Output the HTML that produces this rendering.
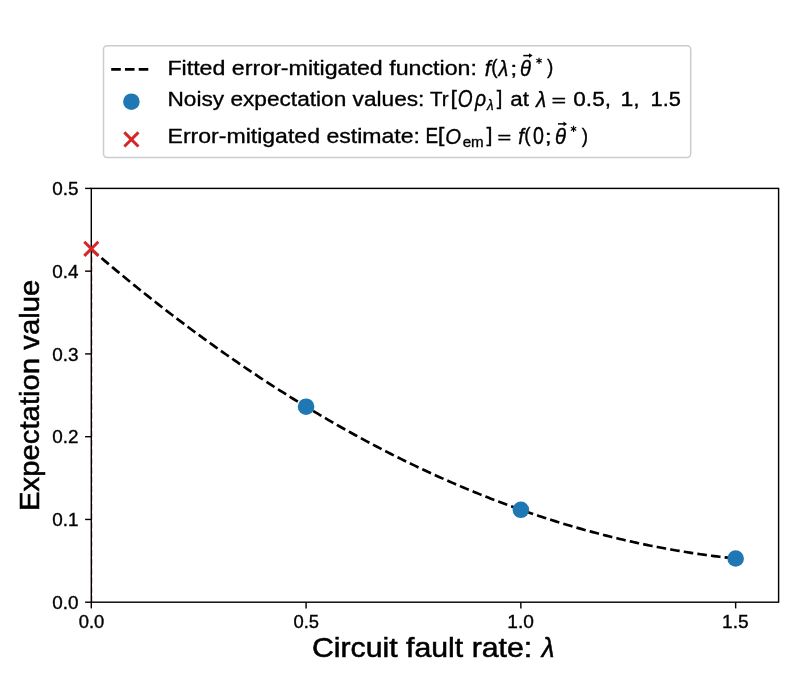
<!DOCTYPE html>
<html><head><meta charset="utf-8"><title>Error mitigation plot</title>
<style>html,body{margin:0;padding:0;background:#fff;width:797px;height:685px;overflow:hidden}
svg{display:block;filter:blur(0.4px)} text{font-family:"Liberation Sans",sans-serif;fill:#000;stroke:#000;stroke-width:0.35px;vector-effect:non-scaling-stroke} text.lab{stroke-width:0.55px}</style></head>
<body><svg width="797" height="685" viewBox="0 0 797 685">
<rect x="0" y="0" width="797" height="685" fill="#fff"/>
<!-- legend -->
<rect x="103.5" y="45.8" width="587.2" height="111.6" rx="3.6" ry="3.6" fill="#fff" stroke="#cccccc" stroke-width="1.5"/>
<line x1="111.2" y1="69.3" x2="148.9" y2="69.3" stroke="#000" stroke-width="2.66" stroke-dasharray="9.60 4.154"/>
<circle cx="131.4" cy="101.7" r="8.3" fill="#1f77b4"/>
<path d="M124.36,132.36L138.44,146.44M124.36,146.44L138.44,132.36" stroke="#d62728" stroke-width="3.0" fill="none"/>
<!-- axes content -->
<path d="M91.8,602.2V249.0" stroke="#d62728" stroke-opacity="0.35" stroke-width="1.73" stroke-dasharray="6.4 2.77" fill="none"/>
<polyline points="91.30,249.39 94.00,251.71 96.69,254.01 99.39,256.30 102.08,258.59 104.78,260.86 107.48,263.13 110.17,265.39 112.87,267.64 115.56,269.89 118.26,272.12 120.96,274.35 123.65,276.56 126.35,278.77 129.04,280.97 131.74,283.17 134.44,285.35 137.13,287.52 139.83,289.69 142.52,291.85 145.22,293.99 147.92,296.13 150.61,298.27 153.31,300.39 156.00,302.50 158.70,304.61 161.40,306.71 164.09,308.80 166.79,310.88 169.48,312.95 172.18,315.01 174.88,317.07 177.57,319.11 180.27,321.15 182.96,323.18 185.66,325.20 188.36,327.21 191.05,329.21 193.75,331.21 196.44,333.20 199.14,335.17 201.84,337.14 204.53,339.10 207.23,341.05 209.92,343.00 212.62,344.93 215.32,346.86 218.01,348.78 220.71,350.69 223.40,352.59 226.10,354.48 228.80,356.36 231.49,358.24 234.19,360.10 236.88,361.96 239.58,363.81 242.28,365.65 244.97,367.48 247.67,369.31 250.36,371.12 253.06,372.93 255.76,374.73 258.45,376.52 261.15,378.30 263.84,380.07 266.54,381.83 269.24,383.59 271.93,385.34 274.63,387.07 277.32,388.80 280.02,390.53 282.72,392.24 285.41,393.94 288.11,395.64 290.80,397.32 293.50,399.00 296.20,400.67 298.89,402.33 301.59,403.99 304.28,405.63 306.98,407.27 309.68,408.89 312.37,410.51 315.07,412.12 317.76,413.72 320.46,415.31 323.16,416.90 325.85,418.47 328.55,420.04 331.24,421.60 333.94,423.15 336.64,424.69 339.33,426.22 342.03,427.75 344.72,429.26 347.42,430.77 350.12,432.27 352.81,433.76 355.51,435.24 358.20,436.71 360.90,438.18 363.60,439.63 366.29,441.08 368.99,442.52 371.68,443.95 374.38,445.37 377.08,446.79 379.77,448.19 382.47,449.59 385.16,450.97 387.86,452.35 390.56,453.72 393.25,455.08 395.95,456.44 398.64,457.78 401.34,459.12 404.04,460.45 406.73,461.77 409.43,463.08 412.12,464.38 414.82,465.67 417.52,466.96 420.21,468.23 422.91,469.50 425.60,470.76 428.30,472.01 431.00,473.25 433.69,474.48 436.39,475.71 439.08,476.93 441.78,478.13 444.48,479.33 447.17,480.52 449.87,481.71 452.56,482.88 455.26,484.04 457.96,485.20 460.65,486.35 463.35,487.49 466.04,488.62 468.74,489.74 471.44,490.86 474.13,491.96 476.83,493.06 479.52,494.14 482.22,495.22 484.92,496.30 487.61,497.36 490.31,498.41 493.00,499.46 495.70,500.49 498.40,501.52 501.09,502.54 503.79,503.55 506.48,504.55 509.18,505.55 511.88,506.53 514.57,507.51 517.27,508.48 519.96,509.44 522.66,510.39 525.36,511.33 528.05,512.27 530.75,513.19 533.44,514.11 536.14,515.02 538.84,515.92 541.53,516.81 544.23,517.69 546.92,518.57 549.62,519.43 552.32,520.29 555.01,521.14 557.71,521.98 560.40,522.81 563.10,523.63 565.80,524.45 568.49,525.25 571.19,526.05 573.88,526.84 576.58,527.62 579.28,528.39 581.97,529.15 584.67,529.91 587.36,530.65 590.06,531.39 592.76,532.12 595.45,532.84 598.15,533.55 600.84,534.25 603.54,534.95 606.24,535.63 608.93,536.31 611.63,536.98 614.32,537.64 617.02,538.29 619.72,538.94 622.41,539.57 625.11,540.20 627.80,540.81 630.50,541.42 633.20,542.02 635.89,542.62 638.59,543.20 641.28,543.77 643.98,544.34 646.68,544.90 649.37,545.45 652.07,545.99 654.76,546.52 657.46,547.04 660.16,547.56 662.85,548.06 665.55,548.56 668.24,549.05 670.94,549.53 673.64,550.00 676.33,550.47 679.03,550.92 681.72,551.37 684.42,551.81 687.12,552.24 689.81,552.66 692.51,553.07 695.20,553.47 697.90,553.87 700.60,554.26 703.29,554.63 705.99,555.00 708.68,555.36 711.38,555.72 714.08,556.06 716.77,556.40 719.47,556.72 722.16,557.04 724.86,557.35 727.56,557.65 730.25,557.94 732.95,558.23 735.64,558.50" fill="none" stroke="#000" stroke-width="2.66" stroke-dasharray="9.60 4.154" stroke-dashoffset="0.33"/>
<circle cx="306.08" cy="406.7" r="8.3" fill="#1f77b4"/>
<circle cx="520.86" cy="509.8" r="8.3" fill="#1f77b4"/>
<circle cx="735.64" cy="558.5" r="8.3" fill="#1f77b4"/>
<rect x="91.3" y="188.4" width="687.30" height="413.80" fill="none" stroke="#000" stroke-width="1.42"/>
<g stroke="#000" stroke-width="1.42"><line x1="91.30" y1="602.2" x2="91.30" y2="608.40"/><line x1="306.08" y1="602.2" x2="306.08" y2="608.40"/><line x1="520.86" y1="602.2" x2="520.86" y2="608.40"/><line x1="735.64" y1="602.2" x2="735.64" y2="608.40"/><line x1="85.10" y1="602.20" x2="91.3" y2="602.20"/><line x1="85.10" y1="519.44" x2="91.3" y2="519.44"/><line x1="85.10" y1="436.68" x2="91.3" y2="436.68"/><line x1="85.10" y1="353.92" x2="91.3" y2="353.92"/><line x1="85.10" y1="271.16" x2="91.3" y2="271.16"/><line x1="85.10" y1="188.40" x2="91.3" y2="188.40"/></g>
<path d="M84.26,241.76L98.34,255.84M84.26,255.84L98.34,241.76" stroke="#d62728" stroke-width="3.0" fill="none"/>
<!-- text -->
<text transform="matrix(1.1054 0 0 1.0000 167.39 75.30)" font-size="21.0">Fitted error-mitigated function:</text>
<text transform="matrix(1.0250 0 0 1.0400 484.70 75.80)" font-size="21.0" font-style="italic">f</text>
<text transform="matrix(0.9000 0 0 0.9368 491.20 74.25)" font-size="21.0">(</text>
<text transform="matrix(0.9455 0 0 1.0400 498.55 75.80)" font-size="21.0" font-style="italic">λ</text>
<text transform="matrix(1.2000 0 0 0.9143 510.15 74.96)" font-size="21.0">;</text>
<text transform="matrix(0.9636 0 0 1.0400 520.04 75.60)" font-size="21.0" font-style="italic">θ</text>
<text transform="matrix(0.9000 0 0 0.9526 547.05 74.29)" font-size="21.0">)</text>
<text transform="matrix(1.0795 0 0 1.0000 167.42 106.30)" font-size="21.0">Noisy expectation values:</text>
<text transform="matrix(0.9765 0 0 1.0000 430.00 106.30)" font-size="21.0">Tr</text>
<text transform="matrix(1.1000 0 0 0.9579 450.50 105.47)" font-size="21.0">[</text>
<text transform="matrix(0.9067 0 0 1.1143 457.69 107.10)" font-size="21.0" font-style="italic">O</text>
<text transform="matrix(0.9231 0 0 1.0400 475.12 106.44)" font-size="21.0" font-style="italic">ρ</text>
<text transform="matrix(0.9125 0 0 0.9727 486.91 109.70)" font-size="14.8" font-style="italic">λ</text>
<text transform="matrix(0.9600 0 0 0.9579 496.80 105.47)" font-size="21.0">]</text>
<text transform="matrix(1.0634 0 0 1.0000 510.30 106.30)" font-size="21.0">at</text>
<text transform="matrix(0.9909 0 0 1.0267 535.89 106.50)" font-size="21.0" font-style="italic">λ</text>
<text transform="matrix(1.2000 0 0 0.8125 551.60 105.84)" font-size="21.0">=</text>
<text transform="matrix(1.0755 0 0 1.0000 573.30 106.30)" font-size="21.0">0.5,</text>
<text transform="matrix(1.0968 0 0 1.0000 620.40 106.30)" font-size="21.0">1,</text>
<text transform="matrix(1.0395 0 0 1.0000 650.56 106.30)" font-size="21.0">1.5</text>
<text transform="matrix(1.0992 0 0 1.0000 167.50 143.30)" font-size="21.0">Error-mitigated estimate:</text>
<text transform="matrix(0.9000 0 0 1.0357 425.60 143.40)" font-size="21.0">E</text>
<text transform="matrix(1.1400 0 0 0.9579 437.66 141.97)" font-size="21.0">[</text>
<text transform="matrix(0.9667 0 0 1.0786 445.33 144.00)" font-size="21.0" font-style="italic">O</text>
<text transform="matrix(1.0233 0 0 0.9500 462.70 146.50)" font-size="14.8">em</text>
<text transform="matrix(1.0200 0 0 0.9579 486.50 141.97)" font-size="21.0">]</text>
<text transform="matrix(1.1455 0 0 0.7875 497.25 142.56)" font-size="21.0">=</text>
<text transform="matrix(0.9750 0 0 1.0200 518.20 143.60)" font-size="21.0" font-style="italic">f</text>
<text transform="matrix(0.9000 0 0 0.9421 524.15 142.43)" font-size="21.0">(</text>
<text transform="matrix(0.9364 0 0 1.1214 532.90 144.00)" font-size="21.0">0</text>
<text transform="matrix(1.2000 0 0 0.8929 544.65 143.12)" font-size="21.0">;</text>
<text transform="matrix(0.9636 0 0 1.0333 555.04 143.80)" font-size="21.0" font-style="italic">θ</text>
<text transform="matrix(0.9000 0 0 0.9789 581.80 142.68)" font-size="21.0">)</text>
<text class="lab" transform="matrix(1.1009 0 0 1.0000 311.90 656.60)" font-size="27.5">Circuit fault rate:</text>
<text class="lab" transform="matrix(0.9333 0 0 1.0000 541.77 656.60)" font-size="27.5" font-style="italic">λ</text>
<text transform="matrix(0.9781 0 0 1.0000 78.75 627.70)" font-size="18.8">0.0</text>
<text transform="matrix(0.9781 0 0 1.0000 293.53 627.70)" font-size="18.8">0.5</text>
<text transform="matrix(1.0177 0 0 1.0000 507.29 627.70)" font-size="18.8">1.0</text>
<text transform="matrix(1.0177 0 0 1.0000 722.08 627.70)" font-size="18.8">1.5</text>
<text transform="matrix(1.0053 0 0 1.0000 52.20 609.00)" font-size="18.8">0.0</text>
<text transform="matrix(1.0053 0 0 1.0000 52.20 526.24)" font-size="18.8">0.1</text>
<text transform="matrix(1.0053 0 0 1.0000 52.20 443.48)" font-size="18.8">0.2</text>
<text transform="matrix(1.0053 0 0 1.0000 52.20 360.72)" font-size="18.8">0.3</text>
<text transform="matrix(1.0053 0 0 1.0000 52.20 277.96)" font-size="18.8">0.4</text>
<text transform="matrix(1.0053 0 0 1.0000 52.20 195.20)" font-size="18.8">0.5</text>
<text class="lab" transform="translate(39.2 510.93) rotate(-90) scale(1.0652 1)" font-size="27.5">Expectation value</text>
<path d="M523.30,55.60H530.10" stroke="#000" stroke-width="1.5" fill="none"/><path d="M529.00,53.30L532.60,55.60L529.00,57.90Z" fill="#000"/>
<path d="M539.05,57.70L539.05,63.90M536.37,59.25L541.73,62.35M541.73,59.25L536.37,62.35" stroke="#000" stroke-width="1.1" fill="none"/>
<path d="M573.55,125.80L573.55,132.00M570.87,127.35L576.23,130.45M576.23,127.35L570.87,130.45" stroke="#000" stroke-width="1.1" fill="none"/>
<path d="M558.00,123.90H564.60" stroke="#000" stroke-width="1.5" fill="none"/><path d="M563.50,121.60L567.10,123.90L563.50,126.20Z" fill="#000"/>
</svg></body></html>
